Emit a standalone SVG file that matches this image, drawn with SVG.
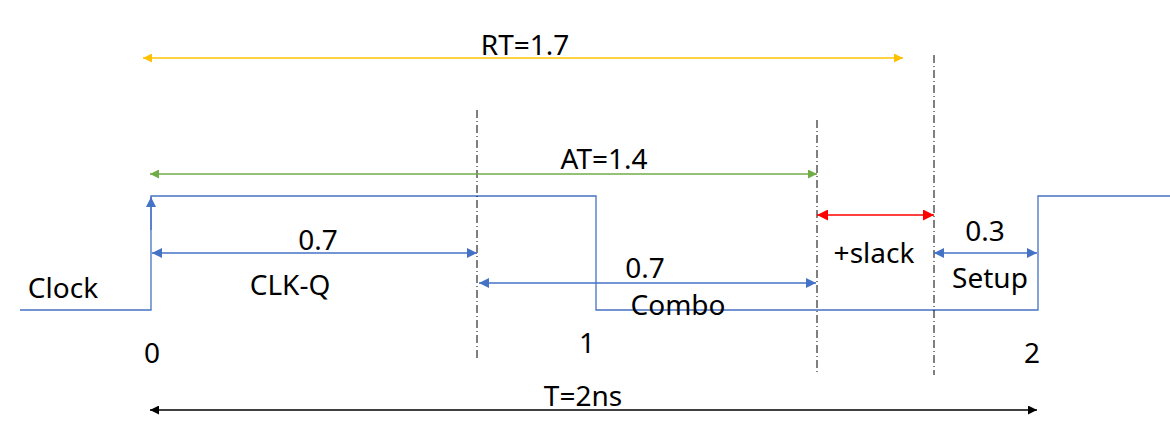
<svg xmlns="http://www.w3.org/2000/svg" width="1170" height="439" viewBox="0 0 1170 439">
<style>
text{font-family:"Noto Sans","Liberation Sans",sans-serif;font-size:28px;fill:#000;text-anchor:middle}
.dash{stroke:#000;stroke-width:1;stroke-dasharray:8,3,1,3;fill:none}
.blue{stroke:#4472C4;stroke-width:1.3;fill:none}
</style>
<defs>
<marker id="ab" viewBox="0 0 10 10" refX="10" refY="5" markerWidth="10" markerHeight="10" orient="auto-start-reverse" markerUnits="userSpaceOnUse"><path d="M0,0L10,5L0,10z" fill="#4472C4"/></marker>
<marker id="ay" viewBox="0 0 10 10" refX="10" refY="5" markerWidth="9" markerHeight="9" orient="auto-start-reverse" markerUnits="userSpaceOnUse"><path d="M0,0L10,5L0,10z" fill="#FFC000"/></marker>
<marker id="ag" viewBox="0 0 10 10" refX="10" refY="5" markerWidth="9" markerHeight="9" orient="auto-start-reverse" markerUnits="userSpaceOnUse"><path d="M0,0L10,5L0,10z" fill="#70AD47"/></marker>
<marker id="ar" viewBox="0 0 10 10" refX="10" refY="5" markerWidth="11" markerHeight="11" orient="auto-start-reverse" markerUnits="userSpaceOnUse"><path d="M0,0L10,5L0,10z" fill="#FF0000"/></marker>
<marker id="ak" viewBox="0 0 10 10" refX="10" refY="5" markerWidth="9" markerHeight="9" orient="auto-start-reverse" markerUnits="userSpaceOnUse"><path d="M0,0L10,5L0,10z" fill="#000"/></marker>
</defs>
<g id="waveform">
<path class="blue" d="M20,310H151V196H596V310H1038V196H1170"/>
<path class="blue" d="M151,230V197" marker-end="url(#ab)"/>
</g>
<g id="guides">
<path class="dash" d="M477,110V360"/>
<path class="dash" d="M817,120V375"/>
<path class="dash" d="M934,55V375"/>
</g>
<g id="connectors">
<path d="M143,58H903" stroke="#FFC000" stroke-width="1.3" marker-start="url(#ay)" marker-end="url(#ay)"/>
<path d="M150,174H817" stroke="#70AD47" stroke-width="1.3" marker-start="url(#ag)" marker-end="url(#ag)"/>
<path class="blue" d="M152,253H477" marker-start="url(#ab)" marker-end="url(#ab)"/>
<path class="blue" d="M479,283H816" marker-start="url(#ab)" marker-end="url(#ab)"/>
<path d="M817,215H934" stroke="#FF0000" stroke-width="1.5" marker-start="url(#ar)" marker-end="url(#ar)"/>
<path class="blue" d="M934,253H1037" marker-start="url(#ab)" marker-end="url(#ab)"/>
<path d="M150,410H1037" stroke="#000" stroke-width="1.3" marker-start="url(#ak)" marker-end="url(#ak)"/>
</g>
<g id="labels">
<text x="525" y="55">RT=1.7</text>
<text x="604" y="169">AT=1.4</text>
<text x="318" y="250">0.7</text>
<text x="290" y="295">CLK-Q</text>
<text x="645" y="278">0.7</text>
<text x="678" y="315">Combo</text>
<text x="874" y="263">+slack</text>
<text x="985" y="241">0.3</text>
<text x="990" y="288">Setup</text>
<text x="63" y="298">Clock</text>
<text x="152" y="363">0</text>
<text x="587" y="353">1</text>
<text x="1032" y="363">2</text>
<text x="583" y="406">T=2ns</text>
</g>
</svg>
